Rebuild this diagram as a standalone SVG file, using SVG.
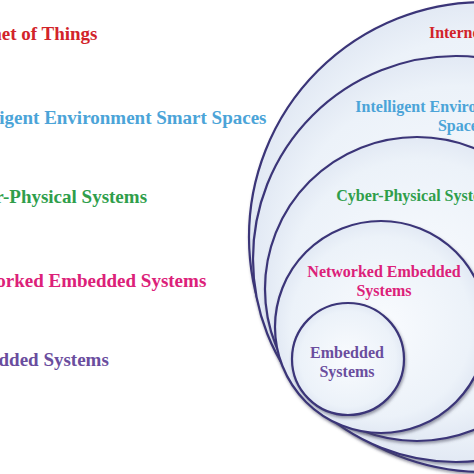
<svg xmlns="http://www.w3.org/2000/svg" width="474" height="474" viewBox="0 0 474 474">
  <defs>
    <radialGradient id="fill" cx="0.5" cy="0.5" r="0.5">
      <stop offset="0" stop-color="#f9fbfe"/>
      <stop offset="0.85" stop-color="#ecf2f9"/>
      <stop offset="1" stop-color="#e2e9f4"/>
    </radialGradient>
    <filter id="sh" x="-10%" y="-10%" width="120%" height="120%">
      <feDropShadow dx="1" dy="2" stdDeviation="1.6" flood-color="#4a4a60" flood-opacity="0.55"/>
    </filter>
  </defs>
  <style>
    .ring { fill: url(#fill); stroke: #3a3478; stroke-width: 2.2; filter: url(#sh); }
    .in { font-family: "Liberation Serif", "Times New Roman", serif; font-weight: bold; font-size: 16px; text-anchor: middle; }
    .lab { font-family: "Liberation Serif", "Times New Roman", serif; font-weight: bold; font-size: 19px; }
    .iot { fill: #d2232a; }
    .ies { fill: #4ba4d8; }
    .cps { fill: #2f9e4b; }
    .nes { fill: #dc2179; }
    .es { fill: #6a4d9e; }
  </style>
  <rect width="474" height="474" fill="#ffffff"/>

  <g id="labels">
    <text class="lab iot" x="-50" y="40">Internet of Things</text>
    <text class="lab ies" x="-44" y="124">Intelligent Environment Smart Spaces</text>
    <text class="lab cps" x="-47" y="203">Cyber-Physical Systems</text>
    <text class="lab nes" x="-46" y="287">Networked Embedded Systems</text>
    <text class="lab es" x="-49" y="366">Embedded Systems</text>
  </g>

  <g id="connectors"/>

  <g id="internet-of-things">
    <circle class="ring" cx="484" cy="237" r="235"/>
    <text class="in iot" x="491" y="38">Internet of Things</text>
  </g>

  <g id="intelligent-environment">
    <circle class="ring" cx="456" cy="259" r="203"/>
    <text class="in ies" x="461" y="112">Intelligent Environment Smart</text>
    <text class="in ies" x="461" y="131">Spaces</text>
  </g>

  <g id="cyber-physical-systems">
    <circle class="ring" cx="417" cy="289" r="152"/>
    <text class="in cps" x="418" y="201">Cyber-Physical Systems</text>
  </g>

  <g id="networked-embedded-systems">
    <circle class="ring" cx="381" cy="327" r="106"/>
    <text class="in nes" x="384" y="277">Networked Embedded</text>
    <text class="in nes" x="384" y="296">Systems</text>
  </g>

  <g id="embedded-systems">
    <circle class="ring" cx="348" cy="359" r="56"/>
    <text class="in es" x="347" y="358">Embedded</text>
    <text class="in es" x="347" y="377">Systems</text>
  </g>
</svg>
